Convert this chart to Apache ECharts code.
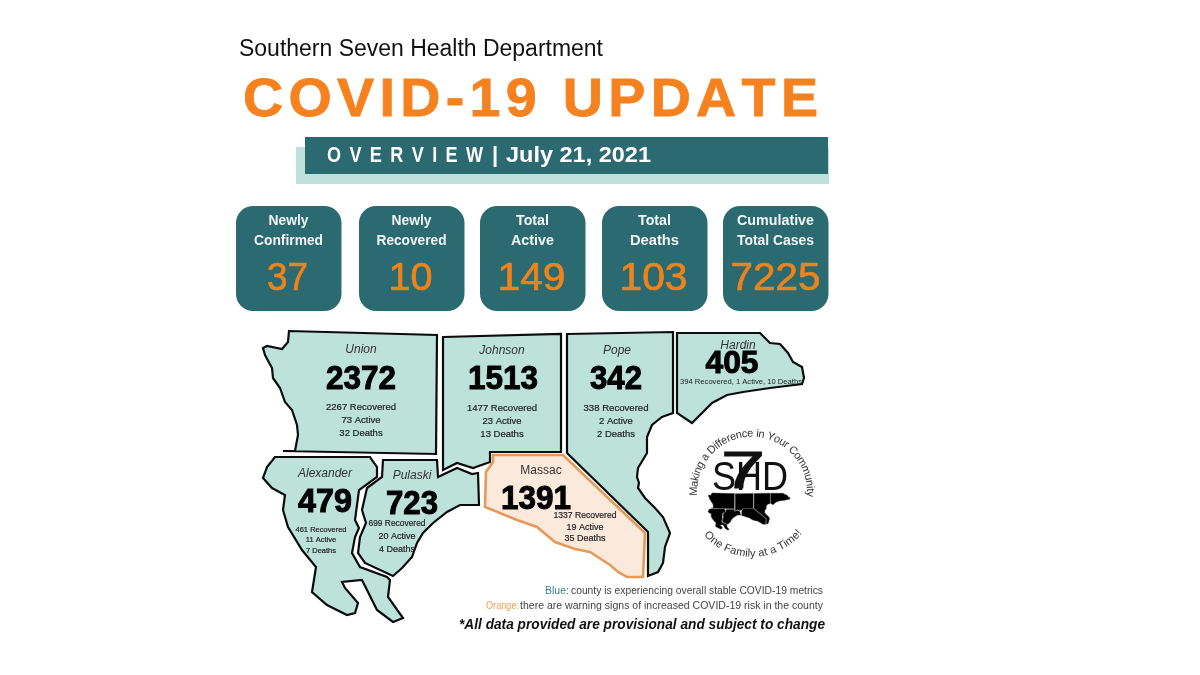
<!DOCTYPE html>
<html>
<head>
<meta charset="utf-8">
<style>html,body{margin:0;padding:0;background:#fff}#main{width:1200px;height:675px}</style>
<script src="https://cdn.jsdelivr.net/npm/echarts@6/dist/echarts.min.js"></script>
</head>
<body>
<div id="main"></div>
<script>
// data
var kpiLabels = [['Newly', 'Confirmed'], ['Newly', 'Recovered'], ['Total', 'Active'], ['Total', 'Deaths'], ['Cumulative', 'Total Cases']];
var kpiValues = [37, 10, 149, 103, 7225];
var counties = ['Union', 'Johnson', 'Pope', 'Hardin', 'Alexander', 'Pulaski', 'Massac'];
var totals = [2372, 1513, 342, 405, 479, 723, 1391];
var recovered = [2267, 1477, 338, 394, 461, 699, 1337];
var active = [73, 23, 2, 1, 11, 20, 19];
var deaths = [32, 13, 2, 10, 7, 4, 35];
var riskLevel = ['blue', 'blue', 'blue', 'blue', 'blue', 'blue', 'orange'];

var headerText = 'Southern Seven Health Department';
var titleText = 'COVID-19 UPDATE';
var overviewWord = 'OVERVIEW';
var overviewDate = 'July 21, 2021';

// county outlines
var outlines = {
    Union: [[289,331],[437,335],[436,454],[283,451],[295,451],[298,435],[297,425],[292,410],[285,402],[280,388],[273,378],[272,368],[265,355],[263,348],[267,346],[282,349],[288,342]],
    Johnson: [[443,337],[561,334],[561,452],[490,452],[490,462],[473,468],[457,463],[443,470]],
    Pope: [[567,334],[673,332],[673,413],[662,417],[652,425],[647,437],[647,453],[638,468],[637,477],[639,483],[638,488],[645,498],[655,508],[663,517],[670,533],[665,547],[663,563],[658,572],[648,576],[648,532],[567,453]],
    Hardin: [[677,333],[760,333],[770,343],[780,344],[788,353],[793,362],[802,367],[804,378],[802,384],[770,388],[743,392],[727,395],[712,403],[700,415],[692,423],[677,413]],
    Alexander: [[275,457],[370,457],[377,467],[377,477],[359,490],[355,520],[359,528],[355,537],[352,553],[360,567],[387,577],[390,580],[388,597],[403,618],[393,622],[377,610],[362,580],[342,582],[345,588],[358,603],[355,613],[347,615],[327,605],[312,592],[316,567],[302,550],[288,527],[283,510],[285,495],[272,488],[263,478],[267,467]],
    Pulaski: [[383,460],[437,460],[438,477],[457,468],[472,474],[478,473],[479,505],[460,505],[447,512],[433,523],[423,533],[417,543],[412,557],[402,568],[393,576],[365,563],[358,553],[360,537],[366,523],[362,510],[367,488],[382,477]],
    Massac: [[493,455],[563,455],[645,533],[643,577],[627,577],[618,572],[610,565],[590,552],[575,549],[555,542],[537,527],[517,520],[485,507],[486,472],[493,462]]
};

// label placement for each county: name, total, detail block
var labelPos = {
    Union: { name: [361,349], total: [361,378,70], detail: [361,407,13,70,9.5] },
    Johnson: { name: [502,350], total: [503,378,70], detail: [502,408,13,70,9.5] },
    Pope: { name: [617,350], total: [616,378,52], detail: [616,408,13,65,9.5] },
    Alexander: { name: [325,473], total: [325,501,54], detail: [321,529,10.5,51,7.5] },
    Pulaski: { name: [412,475], total: [412,503,52], detail: [397,523,13,57,9] },
    Massac: { name: [541,470], total: [536,498,70], detail: [585,515,11.5,63,9] }
};

var DARK = '#2a6a70', LIGHT = '#bde0da', ORANGE = '#f5821f';
var SANS = '"Liberation Sans", Arial, sans-serif';
var measureCtx = document.createElement('canvas').getContext('2d');

// text element; w squeezes the string to a target width in pixels
function txt(text, x, y, font, fill, w, align, extra) {
    measureCtx.font = font;
    var scale = w ? w / measureCtx.measureText(text).width : 1;
    var px = parseFloat(font.match(/([\d.]+)px/)[1]);
    var style = {
        text: text, font: font, fill: fill,
        textAlign: align || 'center', textVerticalAlign: 'middle',
        align: align || 'center', verticalAlign: 'middle'
    };
    if (extra && extra.stroke) { style.stroke = extra.stroke; style.lineWidth = extra.lineWidth; }
    return {
        type: 'text', x: x, y: y + px * 0.06, scaleX: extra && extra.scaleX || scale, z: 100, silent: true,
        rotation: extra && extra.rotation || 0, style: style
    };
}

// even letter spacing between x0 and x1, letters optionally widened
function spaced(text, x0, x1, y, font, fill, stroke, widen) {
    measureCtx.font = font;
    var k = widen || 1, total = 0, i;
    for (i = 0; i < text.length; i++) total += measureCtx.measureText(text[i]).width * k;
    var gap = (x1 - x0 - total) / (text.length - 1);
    var out = [], x = x0;
    for (i = 0; i < text.length; i++) {
        out.push(txt(text[i], x, y, font, fill, null, 'left', { stroke: stroke ? fill : null, lineWidth: stroke, scaleX: k }));
        x += measureCtx.measureText(text[i]).width * k + gap;
    }
    return out;
}

// letters around the logo circle
function arcText(text, cx, cy, r, a0, a1, font, fill, bottom) {
    measureCtx.font = font;
    var total = measureCtx.measureText(text).width, out = [], run = 0;
    for (var i = 0; i < text.length; i++) {
        var cw = measureCtx.measureText(text[i]).width;
        var a = (a0 + (a1 - a0) * (run + cw / 2) / total) * Math.PI / 180;
        var rot = bottom ? a - Math.PI / 2 : a + Math.PI / 2;
        out.push(txt(text[i], cx + r * Math.cos(a), cy + r * Math.sin(a), font, fill, null, 'center', { rotation: -rot }));
        run += cw;
    }
    return out;
}

var els = [];

els.push(txt(headerText, 239, 48, '23px ' + SANS, '#111', 364, 'left'));
els = els.concat(spaced(titleText, 243, 818, 98, 'bold 53px ' + SANS, ORANGE, 0.8, 1.05));

els.push({ type: 'rect', z: 90, silent: true, shape: { x: 296, y: 147, width: 533, height: 37 }, style: { fill: LIGHT } });
els.push({ type: 'rect', z: 91, silent: true, shape: { x: 305, y: 137, width: 523, height: 37 }, style: { fill: DARK } });
els = els.concat(spaced(overviewWord, 327, 483, 155, 'bold 22px ' + SANS, '#fff', 0, 0.82));
els.push(txt('|', 495, 155, 'bold 22px ' + SANS, '#fff'));
els.push(txt(overviewDate, 506, 155, 'bold 22px ' + SANS, '#fff', 145, 'left'));

// KPI cards
var cardX = [236, 359, 480, 602, 723];
var valueW = [41, 44, 68, 68, 90];
var labelW = [[40, 69], [40, 70], [33, 43], [33, 49], [77, 77]];
kpiValues.forEach(function (v, i) {
    var cx = cardX[i] + 52.5;
    els.push({ type: 'rect', z: 90, silent: true, shape: { x: cardX[i], y: 206, width: 105.5, height: 105, r: 17 }, style: { fill: DARK } });
    els.push(txt(kpiLabels[i][0], cx, 220, 'bold 14px ' + SANS, '#f2f6f6', labelW[i][0]));
    els.push(txt(kpiLabels[i][1], cx, 240, 'bold 14px ' + SANS, '#f2f6f6', labelW[i][1]));
    els.push(txt(String(v), cx - (i === 4 ? 0 : 1), 277, '39px ' + SANS, '#ee8419', valueW[i], 'center', { stroke: '#ee8419', lineWidth: 0.7 }));
});

// county text
counties.forEach(function (name, i) {
    var p = labelPos[name];
    if (!p) return;
    var nameFont = (name === 'Massac' ? '' : 'italic ') + '12px ' + SANS;
    els.push(txt(name, p.name[0], p.name[1], nameFont, '#333'));
    els.push(txt(String(totals[i]), p.total[0], p.total[1], 'bold 33px ' + SANS, '#000', p.total[2], 'center', { stroke: '#000', lineWidth: 1 }));
    var d = p.detail, font = d[4] + 'px ' + SANS;
    els.push(txt(recovered[i] + ' Recovered', d[0], d[1], font, '#222', d[3], 'center', { stroke: '#222', lineWidth: 0.2 }));
    els.push(txt(active[i] + ' Active', d[0], d[1] + d[2], font, '#222', null, 'center', { stroke: '#222', lineWidth: 0.2 }));
    els.push(txt(deaths[i] + ' Deaths', d[0], d[1] + 2 * d[2], font, '#222', null, 'center', { stroke: '#222', lineWidth: 0.2 }));
});

// Hardin has its own tighter layout
var h = counties.indexOf('Hardin');
els.push(txt('Hardin', 738, 345, 'italic 12px ' + SANS, '#333'));
els.push(txt(String(totals[h]), 732, 363, 'bold 31px ' + SANS, '#000', 53, 'center', { stroke: '#000', lineWidth: 1 }));
els.push(txt(recovered[h] + ' Recovered, ' + active[h] + ' Active, ' + deaths[h] + ' Deaths', 741, 381, '8px ' + SANS, '#222', 122));

// logo
els = els.concat(arcText('Making a Difference in Your Community', 752, 491, 58, 176, 364, '11px ' + SANS, '#333', false));
els = els.concat(arcText('One Family at a Time!', 752, 491, 62, 138, 40, '11px ' + SANS, '#333', true));
els.push(txt('SHD', 750, 477, '40px ' + SANS, '#111', 76));
els.push(txt('7', 743, 471, '52px ' + SANS, '#111', 44, 'center', { stroke: '#111', lineWidth: 1.2 }));

// footnotes
els.push(txt('Blue:', 545, 591, '10px ' + SANS, '#3c7f86', 24, 'left'));
els.push(txt('county is experiencing overall stable COVID-19 metrics', 571, 591, '10px ' + SANS, '#444', 252, 'left'));
els.push(txt('Orange:', 486, 606, '10px ' + SANS, '#f0a050', 33, 'left'));
els.push(txt('there are warning signs of increased COVID-19 risk in the county', 520, 606, '10px ' + SANS, '#444', 303, 'left'));
els.push(txt('*All data provided are provisional and subject to change', 459, 624, 'italic bold 14.5px ' + SANS, '#111', 366, 'left'));

// shapes go through a registered map, y flipped because geo treats y as latitude
var features = counties.map(function (name) {
    var ring = outlines[name].map(function (p) { return [p[0], -p[1]]; });
    ring.push(ring[0]);
    return { type: 'Feature', properties: { name: name }, geometry: { type: 'Polygon', coordinates: [ring] } };
});
var geoJson = { type: 'FeatureCollection', features: features };
echarts.registerMap('s7', geoJson);
echarts.registerMap('s7logo', geoJson);

var mapData = counties.map(function (name, i) {
    var orange = riskLevel[i] === 'orange';
    return {
        name: name, value: totals[i],
        itemStyle: { areaColor: orange ? '#fbe9dc' : '#bde2da', borderColor: orange ? '#e59a5a' : '#0c0c0c', borderWidth: orange ? 2.6 : 2.2 }
    };
});

var myChart = echarts.init(document.getElementById('main'));
myChart.setOption({
    animation: false,
    backgroundColor: '#fff',
    graphic: { elements: els },
    series: [
        {
            type: 'map', map: 's7', aspectScale: 1, silent: true, roam: false,
            left: 263, top: 331, width: 541, height: 291,
            label: { show: false }, data: mapData
        },
        {
            type: 'map', map: 's7logo', aspectScale: 1.19, silent: true, roam: false,
            left: 708, top: 493, width: 82, height: 37,
            label: { show: false },
            itemStyle: { areaColor: '#000', borderColor: '#333', borderWidth: 0.4 },
            data: counties.map(function (name) { return { name: name, value: 1 }; })
        }
    ]
});
</script>
</body>
</html>
